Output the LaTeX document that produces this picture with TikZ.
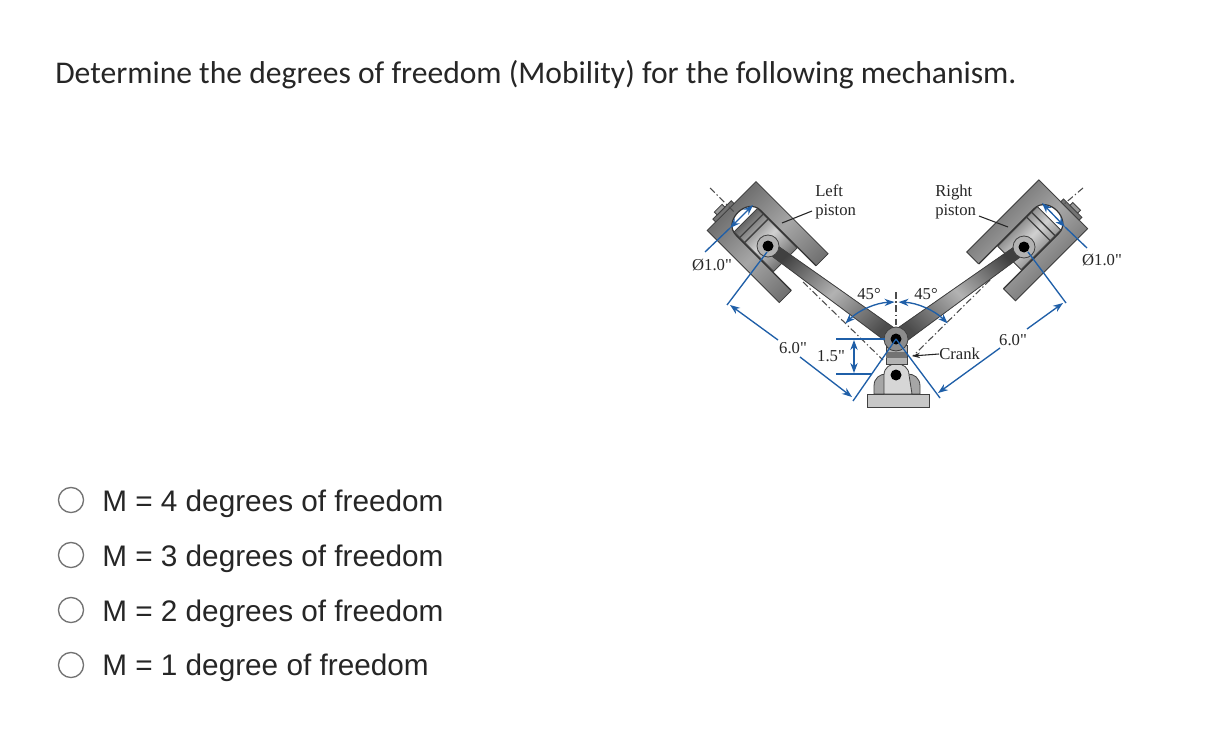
\documentclass[tikz,border=0pt]{standalone}
\usepackage{fontspec}
\setmainfont{Liberation Sans}
\newfontfamily\titlefont{Carlito}
\newfontfamily\figfont{Liberation Serif}
\usetikzlibrary{arrows.meta,calc}
\definecolor{dimblue}{HTML}{1F5FA8}
\definecolor{wallgray}{HTML}{666666}
\tikzset{
  dimline/.style={draw=dimblue,line width=1pt},
  dimarrow/.style={dimline,{Stealth[length=7.5pt,width=5.5pt]}-{Stealth[length=7.5pt,width=5.5pt]}},
  dimarrowend/.style={dimline,-{Stealth[length=7.5pt,width=5.5pt]}},
  axisline/.style={draw=black!70,line width=0.8pt,dash pattern=on 5pt off 2pt on 1pt off 2pt},
  leader/.style={draw=black!85,line width=0.8pt},
  figlabel/.style={font=\figfont\fontsize{12.5}{15}\selectfont,inner sep=0pt,text=black!85},
  question/.style={font=\fontsize{22.3}{27}\selectfont,anchor=base west,inner sep=0pt,text=black!85},
  radio/.style={circle,draw=black!55,line width=1pt,minimum size=18.8pt,inner sep=0pt},
  pinhole/.style={fill=black},
  partline/.style={draw=black!75,line width=0.6pt},
}
\newcommand{\pistonbody}{%
  \filldraw[partline,top color=wallgray,bottom color=wallgray,middle color=black!35,shading angle=45]
    (-54,-37) -- (48,-37) -- (48,32) -- (-54,32) -- cycle;
  \fill[white] (50,-20) -- (-30,-20) .. controls (-50,-20) and (-50,15) .. (-30,15) -- (50,15) -- cycle;
  \draw[draw=black!80,line width=0.9pt] (48,-20) -- (-30,-20) .. controls (-50,-20) and (-50,15) .. (-30,15) -- (48,15);
  \filldraw[partline,fill=black!55] (-58,-6) -- (-54,-6) -- (-54,20) -- (-58,20) -- cycle;
  \filldraw[partline,fill=black!40] (-62,3) -- (-58,3) -- (-58,14) -- (-62,14) -- cycle;
  \filldraw[partline,top color=black!65,bottom color=black!60,middle color=black!18,shading angle=45]
    (-34,-19) -- (22,-19) -- (22,14) -- (-34,14) -- cycle;
  \draw[draw=black!75,line width=1pt] (-26,-19) -- (-26,14) (-19,-19) -- (-19,14);
}
\begin{document}
\begin{tikzpicture}[x=0.75pt,y=-0.75pt]
\useasboundingbox (0,0) rectangle (1217,731);
\fill[white] (0,0) rectangle (1217,731);

\node[anchor=base west,inner sep=0pt,text=black!85,font=\titlefont\fontsize{23.7}{28}\selectfont] (title) at (55,84)
  {Determine the degrees of freedom (Mobility) for the following mechanism.};

% reference points
\coordinate (wl) at (768,246);
\coordinate (wr) at (1024,247);
\coordinate (cp) at (896,339);
\coordinate (gp) at (896,375);

% cylinders
\begin{scope}[shift={(wl)},rotate=-45]\pistonbody\end{scope}
\begin{scope}[shift={(1026.8,244.2)},xscale=-1,rotate=-45]\pistonbody\end{scope}

% axes
\draw[axisline] (710,188) -- (735,213);
\draw[axisline] (803,282) -- (883,360);
\draw[axisline] (1083,188) -- (1063,205);
\draw[axisline] (990,280) -- (913,356);
\draw[axisline] (896,292) -- (896,330);

% base
\filldraw[partline,fill=black!35] (874,394) -- (874,386) .. controls (874,378) and (880,374) .. (886,374)
  -- (908,374) .. controls (914,374) and (920,378) .. (920,386) -- (920,394) -- cycle;
\filldraw[partline,fill=black!22] (867,394) rectangle (929,407);
\filldraw[partline,fill=black!16] (884,394) -- (884,375) .. controls (884,360) and (909,360) .. (909,375) -- (912,394) -- cycle;

% crank
\filldraw[partline,fill=black!30] (886,345) rectangle (907,364);
\fill[black!55] (886,352) rectangle (907,358);

% rods
\path ($(wl)!4.3pt!90:(cp)$) coordinate (la) ($(wl)!4.3pt!-90:(cp)$) coordinate (lb)
      ($(cp)!6pt!-90:(wl)$) coordinate (lc) ($(cp)!6pt!90:(wl)$) coordinate (ld);
\filldraw[partline,top color=black!75,bottom color=black!70,middle color=black!30,shading angle=45]
  (la) -- (lb) -- (ld) -- (lc) -- cycle;
\path ($(wr)!4.3pt!90:(cp)$) coordinate (ra) ($(wr)!4.3pt!-90:(cp)$) coordinate (rb)
      ($(cp)!6pt!-90:(wr)$) coordinate (rc) ($(cp)!6pt!90:(wr)$) coordinate (rd);
\filldraw[partline,top color=black!75,bottom color=black!70,middle color=black!30,shading angle=-45]
  (ra) -- (rb) -- (rd) -- (rc) -- cycle;

% joints
\filldraw[partline,fill=black!30] (wl) circle (11);
\filldraw[partline,fill=black!30] (wr) circle (11);
\filldraw[partline,fill=black!45] (cp) circle (12);
\fill[pinhole] (wl) circle (5.5);
\fill[pinhole] (wr) circle (5.5);
\fill[pinhole] (cp) circle (5.5);
\fill[pinhole] (gp) circle (5.5);

% labels
\node[figlabel,anchor=west,align=left] (leftp) at (815,202) {Left\\[-0.5pt]piston};
\node[figlabel,anchor=west,align=left] (rightp) at (935,202) {Right\\[-0.5pt]piston};
\node[figlabel,anchor=west] (crank) at (939,354) {Crank};
\node[figlabel] (d1) at (712,265) {Ø1.0"};
\node[figlabel] (d2) at (1102,260) {Ø1.0"};
\node[figlabel] (six1) at (793,348) {6.0"};
\node[figlabel] (six2) at (1013,340) {6.0"};
\node[figlabel] (onefive) at (831,356) {1.5"};
\node[figlabel] (a1) at (869,294) {45°};
\node[figlabel] (a2) at (926,294) {45°};

% leaders
\coordinate (lpt) at (782,223);
\coordinate (lpe) at (812,211);
\coordinate (rpt) at (1008,227);
\coordinate (rpe) at (979,216);
\coordinate (cpt) at (912,356);
\draw[leader] (lpt) -- (lpe);
\draw[leader] (rpt) -- (rpe);
\draw[leader,-{Stealth[length=6pt,width=4pt]}] (crank.west) -- (cpt);

% dimensions: bore
\coordinate (bl1) at (730,228); \coordinate (bl2) at (753,205);
\coordinate (br1) at (1042,203); \coordinate (br2) at (1065,227);
\draw[dimarrow] (bl1) -- (bl2);
\draw[dimline] (bl1) -- (705,252);
\draw[dimarrow] (br1) -- (br2);
\draw[dimline] (br2) -- (1087,248);

% dimensions: stroke
\coordinate (e1) at (727,305); \coordinate (e2) at (853,401);
\coordinate (e3) at (1066,303); \coordinate (e4) at (940,398);
\draw[dimline] (767,252) -- (e1);
\draw[dimline] (cp) -- (e2);
\draw[dimarrowend] (778,340) -- (730,305);
\draw[dimarrowend] (800,357) -- (852,397);
\draw[dimline] (1028,252) -- (e3);
\draw[dimline] (cp) -- (e4);
\draw[dimarrowend] (1027,329) -- (1063,303);
\draw[dimarrowend] (1000,348) -- (938,393);

% 1.5 in
\coordinate (h1) at (836,339); \coordinate (h2) at (836,374);
\draw[dimline] (h1) -- (885,339);
\draw[dimline] (h2) -- (872,374);
\draw[dimarrow] (854,340) -- (854,373);

% angle arcs
\draw[dimarrow] (845.4,323.4) arc[start angle=-135,end angle=-92,radius=73];
\draw[dimarrow] (947.6,323.4) arc[start angle=-45,end angle=-88,radius=73];

% question options
\node[radio] (r1) at (71,500) {};
\node[radio] (r2) at (71,555) {};
\node[radio] (r3) at (71,610) {};
\node[radio] (r4) at (71,665) {};
\node[question] (o1) at (102,511) {M = 4 degrees of freedom};
\node[question] (o2) at (102,566) {M = 3 degrees of freedom};
\node[question] (o3) at (102,621) {M = 2 degrees of freedom};
\node[question] (o4) at (102,675) {M = 1 degree of freedom};
\end{tikzpicture}
\end{document}
